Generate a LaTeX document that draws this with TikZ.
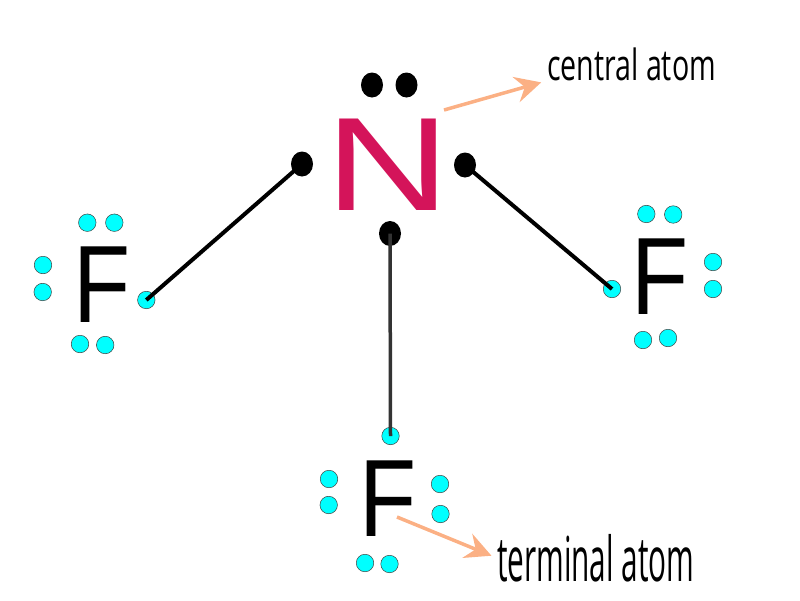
\documentclass[tikz,border=0pt]{standalone}
\usepackage{fontspec}
\setmainfont{Liberation Sans}
\newfontfamily\notefont{Open Sans}
\usetikzlibrary{arrows.meta,shapes.geometric}
\definecolor{atomRed}{HTML}{D4145A}
\definecolor{dotCyan}{HTML}{00FFFF}
\definecolor{notePeach}{HTML}{FBB084}
\begin{document}
\begin{tikzpicture}
[x=1pt,y=-1pt,%
  bondLine/.style={-,line width=4pt,black},%
  noteArrow/.style={-{Stealth[length=26pt,width=26pt,inset=9pt]},line width=3.5pt,notePeach,shorten >=6pt},%
  blackDot/.style={shape=ellipse,inner sep=0pt,fill=black,minimum width=22pt,minimum height=25pt},%
  cyanDot/.style={shape=ellipse,inner sep=0pt,draw=black!75,line width=0.5pt,fill=dotCyan,minimum width=17.5pt,minimum height=17.5pt},%
  atomF/.style={inner sep=0pt,font=\fontsize{110}{110}\selectfont,xscale=0.85,transform shape},%
  noteText/.style={inner sep=0pt,anchor=west,font=\notefont,transform shape}]
\useasboundingbox (0,0) rectangle (800,600);
%% atoms
\node (nitrogen) at (388,165) [inner sep=0pt,text=atomRed,font=\fontsize{133}{133}\selectfont,xscale=1.3,transform shape] {N};
\foreach \nodename/\x/\y in {fleft/102/285, fright/660.5/277, fbottom/388/499}
{
  \node (\nodename) at (\x,\y) [atomF] {F};
}
%% electrons
\foreach \nodename/\x/\y in {
  n1/372/85, n2/406.5/85, n3/302/164, n4/465/165, n5/390/233.5}
{
  \node (\nodename) at (\x,\y) [blackDot] {};
}
\foreach \nodename/\x/\y in {
  l1/87.3/222.7, l2/114.3/222.7, l3/43/265, l4/42.7/292, l5/146.3/300, l6/80/344, l7/105.2/345,
  r1/646.3/214, r2/673.2/214.5, r3/713/262, r4/713/289, r5/612/289, r6/643/340, r7/668/338,
  b1/390.5/436, b2/329/479, b3/328.7/505, b4/440/484, b5/440.5/514, b6/365/563, b7/389.5/564}
{
  \node (\nodename) at (\x,\y) [cyanDot] {};
}
%% bonds
\path
\foreach \startnode/\endnode in {n3/l5, n4/r5}
{
  (\startnode.center) edge[bondLine] (\endnode.center)
};
\draw[bondLine,line width=3.5pt,black!80] (n5.center) -- (b1.center);
%% labels
\node (central) at (547,64) [noteText,font=\notefont\fontsize{43}{43}\selectfont,xscale=0.665] {central atom};
\node (terminal) at (497,558) [noteText,font=\notefont\fontsize{62}{62}\selectfont,xscale=0.48] {terminal atom};
\coordinate (centralStart) at (444,110);
\coordinate (terminalStart) at (397,517);
\draw[noteArrow] (centralStart) -- (central.south west);
\draw[noteArrow] (terminalStart) -- (terminal.west);
\end{tikzpicture}
\end{document}
